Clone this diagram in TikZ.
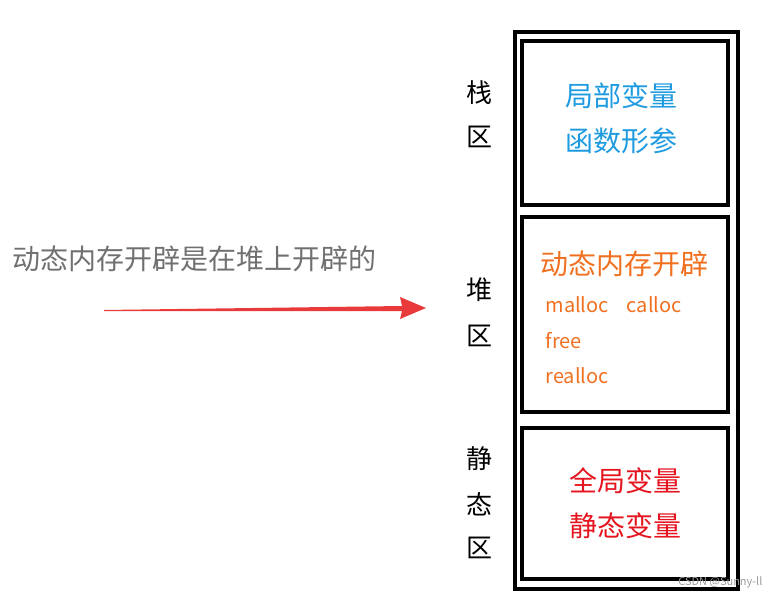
\documentclass[tikz,border=0pt]{standalone}
\usepackage{fontspec}
\setmainfont{Noto Sans CJK SC}
\definecolor{cblue}{HTML}{1E9BE0}
\definecolor{corange}{HTML}{F07020}
\definecolor{cred}{HTML}{E5141E}
\definecolor{cgray}{HTML}{707070}
\definecolor{carrow}{HTML}{E83A3A}
\begin{document}
\begin{tikzpicture}[x=1pt,y=-1pt,
  box/.style={draw=black,line width=4pt},
  lab/.style={font=\fontsize{26}{28}\selectfont,text=black},
  big/.style={font=\fontsize{28}{30}\selectfont},
  small/.style={font=\fontsize{20}{22}\selectfont,text=corange,anchor=west}]
\useasboundingbox (0,0) rectangle (779,599);
\draw[box] (515,32) rectangle (738,589);
\draw[box] (522,41) rectangle (728,205);
\draw[box] (522,217) rectangle (728,412);
\draw[box] (522,428) rectangle (728,579);
\node[lab] (z1) at (479,93) {栈};
\node[lab] (z2) at (479,137) {区};
\node[lab] (d1) at (479,290) {堆};
\node[lab] (d2) at (479,336) {区};
\node[lab] (j1) at (479,459) {静};
\node[lab] (j2) at (479,504) {态};
\node[lab] (j3) at (479,548) {区};
\node[big,text=cblue] (b1) at (621,96) {局部变量};
\node[big,text=cblue] (b2) at (621,141) {函数形参};
\node[big,text=corange] (o1) at (624,264) {动态内存开辟};
\node[small] (o2) at (542,305) {malloc\ \ \ \ calloc};
\node[small] (o3) at (542,341) {free};
\node[small] (o4) at (542,376) {realloc};
\node[big,text=cred] (r1) at (625,481) {全局变量};
\node[big,text=cred] (r2) at (625,526) {静态变量};
\node[big,text=cgray,anchor=west] (t) at (9,259) {动态内存开辟是在堆上开辟的};
\fill[carrow] (104,310) -- (402,306) -- (400,297) -- (426,308) -- (400,319) -- (402,311) -- (104,311) -- cycle;
\node[font=\fontsize{11}{12}\selectfont,text=cgray!70,anchor=east] (w) at (766,582) {CSDN @Sunny-ll};
\end{tikzpicture}
\end{document}
